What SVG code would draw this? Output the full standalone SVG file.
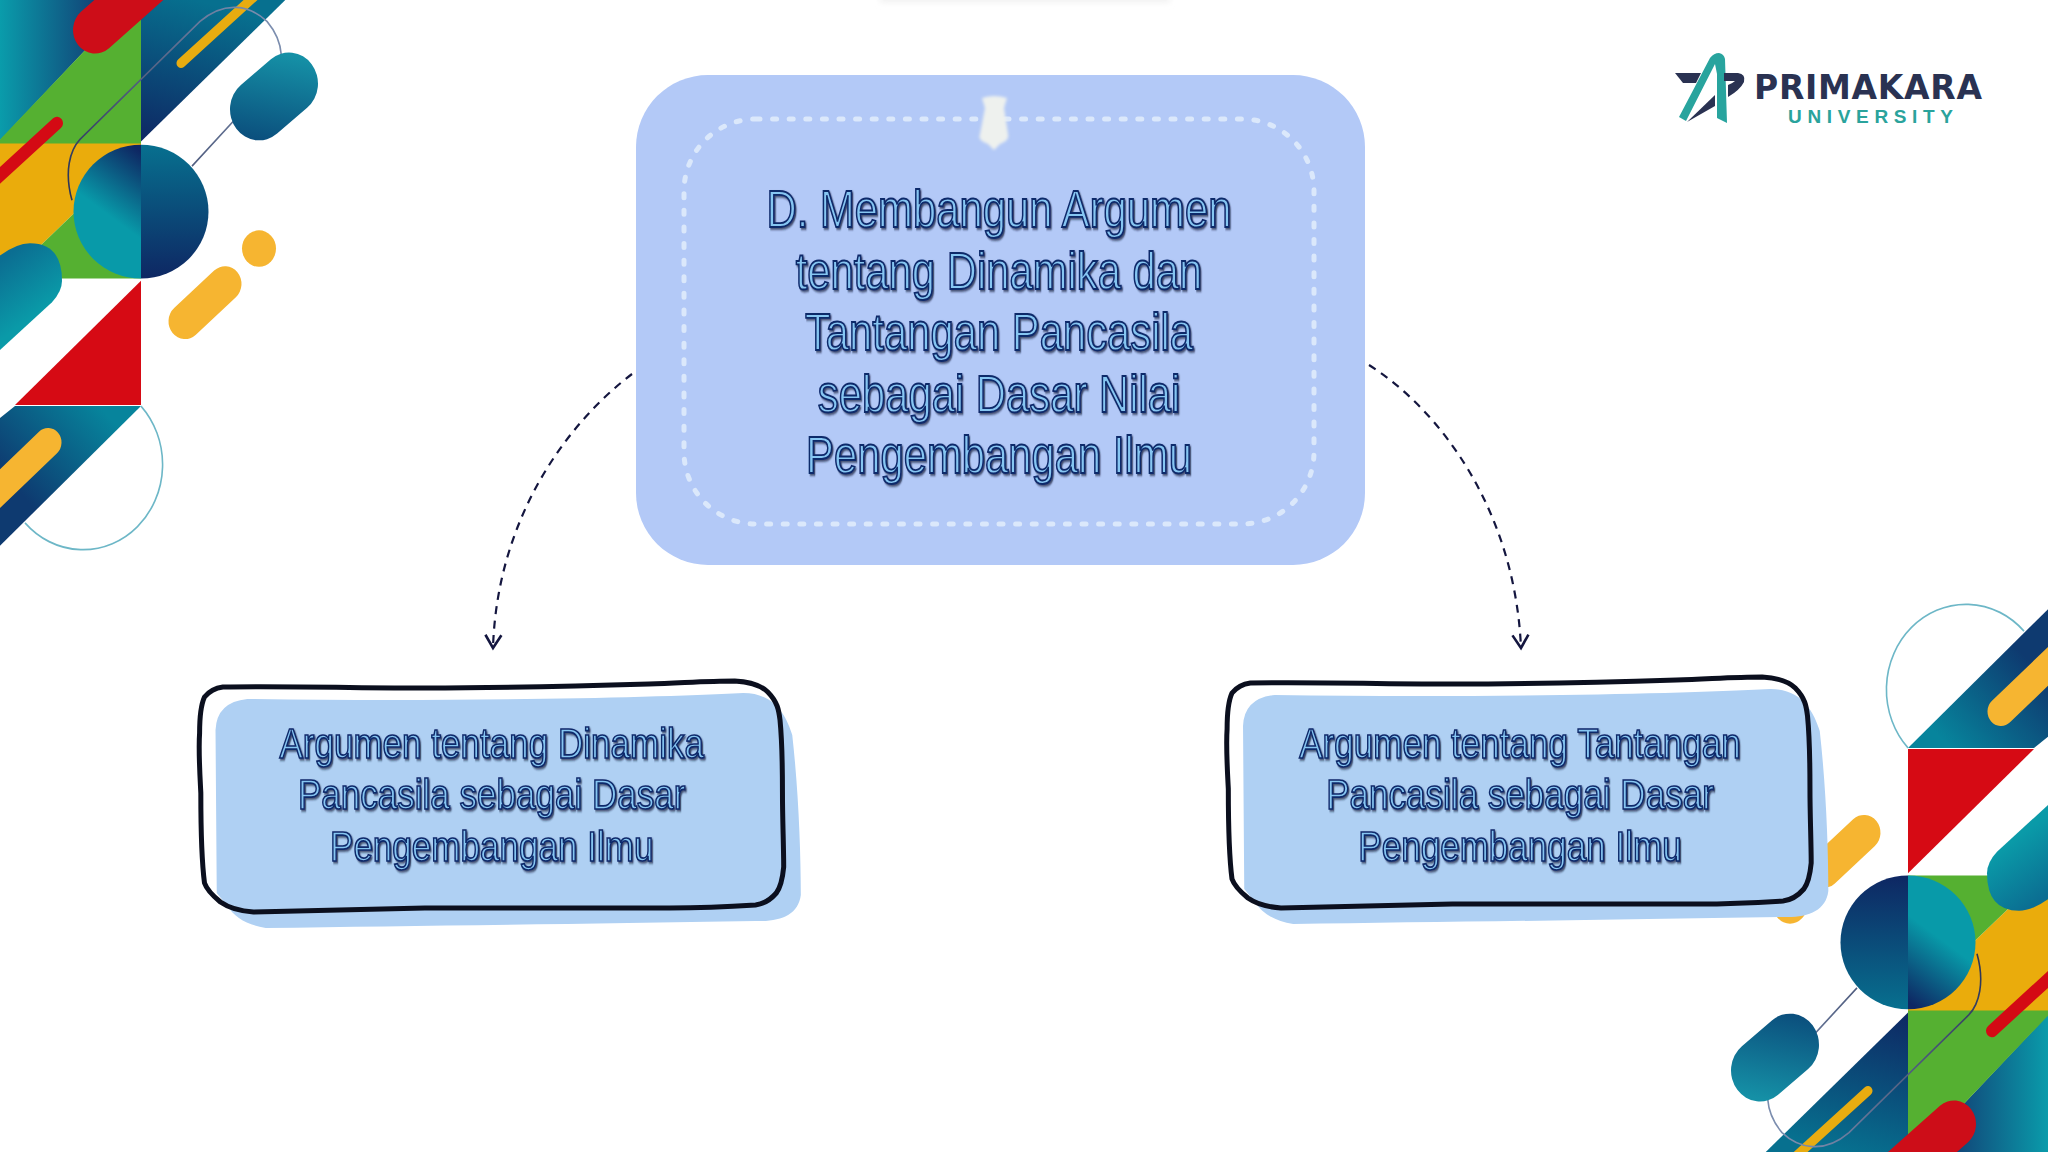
<svg xmlns="http://www.w3.org/2000/svg" width="2048" height="1152" viewBox="0 0 2048 1152">
<style>
.title{font-family:"Liberation Sans",Arial,sans-serif;fill:#86c6f2;stroke:#10296b;text-anchor:middle;filter:url(#ts)}
.t1{font-size:51px;stroke-width:1.8}
.t2{font-size:43px;stroke-width:1.7}
.sketch{fill:none;stroke:#0b0f1e;stroke-width:5;stroke-linejoin:round;vector-effect:non-scaling-stroke}
.blob{fill:#afd0f3}
.conn{fill:none;stroke:#14163f;stroke-width:2.2;stroke-dasharray:8 6.5;marker-end:url(#arrow)}
</style>
<defs>
<filter id="ts" x="-5%" y="-20%" width="110%" height="140%"><feDropShadow dx="1.5" dy="1.8" stdDeviation="0.8" flood-color="#1a2340" flood-opacity="0.75"/></filter>
<filter id="soft" x="-40%" y="-40%" width="180%" height="180%"><feGaussianBlur stdDeviation="1.6"/></filter>
<filter id="smudge" x="-20%" y="-200%" width="140%" height="500%"><feGaussianBlur stdDeviation="3"/></filter>
<linearGradient id="gTeal" gradientUnits="userSpaceOnUse" x1="0" y1="0" x2="105" y2="0"><stop offset="0" stop-color="#0a9cab"/><stop offset="1" stop-color="#123b72"/></linearGradient>
<linearGradient id="gBand" gradientUnits="userSpaceOnUse" x1="141" y1="132" x2="175" y2="-5"><stop offset="0" stop-color="#0e2763"/><stop offset="1" stop-color="#07708f"/></linearGradient>
<linearGradient id="gCL" gradientUnits="userSpaceOnUse" x1="138" y1="140" x2="100" y2="195"><stop offset="0" stop-color="#0e2763"/><stop offset="1" stop-color="#089aa9"/></linearGradient>
<linearGradient id="gCR" gradientUnits="userSpaceOnUse" x1="160" y1="135" x2="160" y2="260"><stop offset="0" stop-color="#07708f"/><stop offset="1" stop-color="#0e2763"/></linearGradient>
<linearGradient id="gPillL" gradientUnits="userSpaceOnUse" x1="5" y1="240" x2="40" y2="290"><stop offset="0" stop-color="#0b6e92"/><stop offset="1" stop-color="#0a9aa8"/></linearGradient>
<linearGradient id="gLow" gradientUnits="userSpaceOnUse" x1="30" y1="470" x2="110" y2="390"><stop offset="0" stop-color="#0e3a70"/><stop offset="1" stop-color="#07849c"/></linearGradient>
<linearGradient id="gPillR" gradientUnits="userSpaceOnUse" x1="280" y1="50" x2="265" y2="132"><stop offset="0" stop-color="#1590a6"/><stop offset="1" stop-color="#0b4f7d"/></linearGradient>
<linearGradient id="gThin" gradientUnits="userSpaceOnUse" x1="70" y1="180" x2="280" y2="30"><stop offset="0" stop-color="#2c3558"/><stop offset="1" stop-color="#7d8fb0"/></linearGradient>
<marker id="arrow" markerUnits="userSpaceOnUse" viewBox="-14 -10 20 20" refX="0" refY="0" markerWidth="20" markerHeight="20" orient="auto"><path d="M-13,-8 L0,0 L-13,8" fill="none" stroke="#14163f" stroke-width="2.6"/></marker>
<g id="decor">
<polygon points="-5,-40 173,-40 -5,136" fill="url(#gTeal)"/>
<polygon points="-5,135 141,135 141,-8" fill="#55b031"/>
<polygon points="141,-40 329,-40 141,132" fill="url(#gBand)"/>
<polygon points="-5,134 141,134 141,139 -5,270" fill="#eaac0c"/>
<polygon points="-5,270 141,139 141,260 -5,260" fill="#55b031"/>
<path d="M-5,168 L57,115" stroke="#d40a14" stroke-width="12" stroke-linecap="round" fill="none"/>
<path d="M95,28 L165,-30" stroke="#cd0d18" stroke-width="44" stroke-linecap="round" fill="none"/>
<path d="M181,59 L300,-42" stroke="#e8ac10" stroke-width="9" stroke-linecap="round" fill="none"/>
<path d="M72,187 C64,160 70,140 80,130 L200,20 C225,0 250,5 267,20 C285,40 285,65 273,73 L192,155" stroke="url(#gThin)" stroke-width="1.6" fill="none"/>
<path d="M141,135 A67.5,62.5 0 0 0 141,260 Z" fill="url(#gCL)"/>
<path d="M141,135 A67.5,62.5 0 0 1 141,260 Z" fill="url(#gCR)"/>
<path d="M259,102 L289,78" stroke="url(#gPillR)" stroke-width="58" stroke-linecap="round" fill="none"/>
<path d="M-5,242 Q15,227 30,227 Q62,227 62,262 Q62,272 52,282 L-5,331 Z" fill="url(#gPillL)"/>
<polygon points="141,262 141,378 15,378" fill="#d60a14"/>
<polygon points="-5,394 15,379 141,379 -5,514" fill="url(#gLow)"/>
<path d="M-10,465 L48,413" stroke="#f6b531" stroke-width="27" stroke-linecap="round" fill="none"/>
<path d="M141,379 A79,79 0 1 1 25,488" stroke="#6db7c7" stroke-width="1.6" fill="none"/>
<path d="M185,300 L225,265" stroke="#f6b531" stroke-width="33" stroke-linecap="round" fill="none"/>
<circle cx="259" cy="232" r="17" fill="#f6b531"/>
</g>
</defs>
<rect width="2048" height="1152" fill="#fff"/>
<rect x="880" y="-6" width="290" height="8" fill="#f0f0f0" filter="url(#smudge)"/>
<use href="#decor" transform="scale(1,1.0714)"/>
<use href="#decor" transform="translate(2049,1154) rotate(180) scale(1,1.0714)"/>
<g id="logo">
<path d="M1679,117 L1710,58 Q1714,53 1719,53 Q1724,54 1725,59 L1727,123 L1717,118 L1717,74 L1715,64 L1686,121 Z" fill="#28a49e"/>
<path d="M1675,73 L1701,73 L1696,83 L1683,83 Z" fill="#2a3252"/>
<path d="M1724,73 L1738,73 Q1746,74 1744,82 Q1740,90 1728,97 L1728,85 Q1733,83 1735,81 L1724,81 Z" fill="#2a3252"/>
<path d="M1687,122 L1715,95 L1715,106 Z" fill="#2a3252"/>
<text x="1754" y="99" font-family="'DejaVu Sans',sans-serif" font-weight="700" font-size="33" fill="#2a3252" textLength="228">PRIMAKARA</text>
<text x="1788" y="123" font-family="'Liberation Sans',Arial,sans-serif" font-weight="700" font-size="19" fill="#2aa39c" textLength="165">UNIVERSITY</text>
</g>
<g id="connectors">
<path class="conn" d="M632,374 C565,425 497,520 493,648"/>
<path class="conn" d="M1369,365 C1440,410 1515,510 1521,648"/>
</g>
<g id="node-main">
<rect x="636" y="75" width="729" height="490" rx="72" fill="#b3c9f7"/>
<rect x="684" y="119" width="630" height="405" rx="72" fill="none" stroke="#dbe8fb" stroke-width="5" stroke-dasharray="4 12.6" stroke-linecap="round"/>
<path d="M982,98 Q994,94 1007,98 L1004,108 L1008,134 Q1010,140 1000,144 L994,150 L988,144 Q977,140 980,134 L985,108 Z" fill="#eef1ee" filter="url(#soft)"/>
<text class="title t1" transform="translate(999,0) scale(0.82,1)"><tspan x="0" y="227.5">D. Membangun Argumen</tspan><tspan x="0" y="289">tentang Dinamika dan</tspan><tspan x="0" y="350.5">Tantangan Pancasila</tspan><tspan x="0" y="412">sebagai Dasar Nilai</tspan><tspan x="0" y="473.5">Pengembangan Ilmu</tspan></text>
</g>
<g id="node-dinamika">
<path class="blob" transform="matrix(1.2245,0,0,1,-40.4,0)" d="M235,699 C400,702 560,698 640,693 C665,693 675,715 680,735 C685,790 687,850 687,895 C685,915 670,922 650,921 C500,924 370,926 250,928 C235,925 225,918 218,905 L210,893 L209,730 Q210,702 235,699 Z"/>
<path class="sketch" transform="matrix(1.2245,0,0,1,-40.4,0)" d="M215,687 C270,686 330,688 380,688 C450,688 510,686 563,684 C590,683 610,681 633,681 C648,682 655,686 660,692 C668,702 669,710 670,720 C672,745 672,770 672,793 C672,820 673,845 673,867 C672,880 670,888 667,893 C662,900 657,904 650,905 C625,907 600,908 580,908 C510,908 445,908 380,908 C330,909 285,911 240,912 C228,911 220,908 213,902 C206,895 202,890 200,883 C197,855 197,825 197,793 C196,770 195,750 196,733 C196,718 197,705 200,697 C204,691 209,688 215,687 Z"/>
<text class="title t2" transform="translate(491.7,0) scale(0.815,1)"><tspan x="0" y="758">Argumen tentang Dinamika</tspan><tspan x="0" y="809.5">Pancasila sebagai Dasar</tspan><tspan x="0" y="861">Pengembangan Ilmu</tspan></text>
</g>
<g id="node-tantangan">
<path class="blob" transform="matrix(1.2245,0,0,1,987.1,-4)" d="M235,699 C400,702 560,698 640,693 C665,693 675,715 680,735 C685,790 687,850 687,895 C685,915 670,922 650,921 C500,924 370,926 250,928 C235,925 225,918 218,905 L210,893 L209,730 Q210,702 235,699 Z"/>
<path class="sketch" transform="matrix(1.2245,0,0,1,987.1,-4)" d="M215,687 C270,686 330,688 380,688 C450,688 510,686 563,684 C590,683 610,681 633,681 C648,682 655,686 660,692 C668,702 669,710 670,720 C672,745 672,770 672,793 C672,820 673,845 673,867 C672,880 670,888 667,893 C662,900 657,904 650,905 C625,907 600,908 580,908 C510,908 445,908 380,908 C330,909 285,911 240,912 C228,911 220,908 213,902 C206,895 202,890 200,883 C197,855 197,825 197,793 C196,770 195,750 196,733 C196,718 197,705 200,697 C204,691 209,688 215,687 Z"/>
<text class="title t2" transform="translate(1520,0) scale(0.815,1)"><tspan x="0" y="758.5">Argumen tentang Tantangan</tspan><tspan x="0" y="809.5">Pancasila sebagai Dasar</tspan><tspan x="0" y="861">Pengembangan Ilmu</tspan></text>
</g>
</svg>
